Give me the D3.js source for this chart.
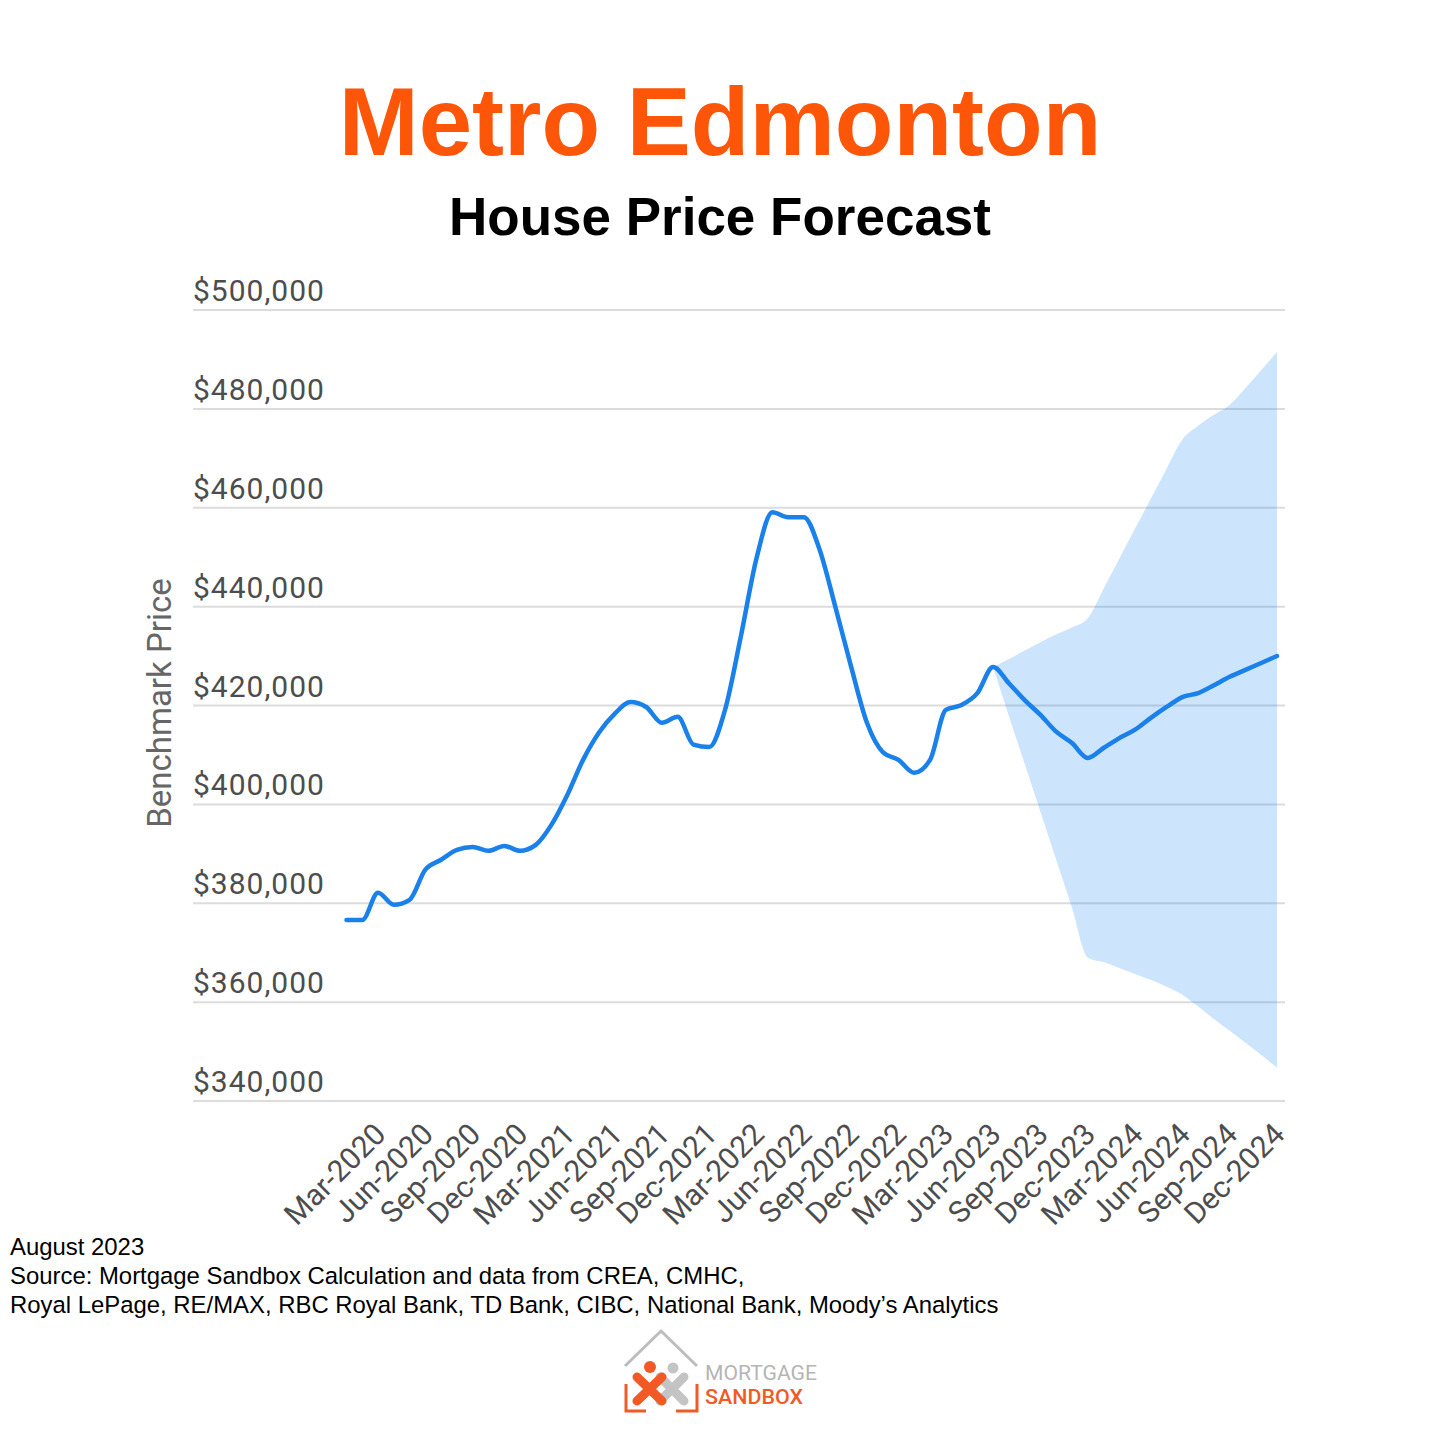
<!DOCTYPE html>
<html><head><meta charset="utf-8">
<script src="https://cdn.jsdelivr.net/npm/d3@7"></script>
<style>
html,body{margin:0;padding:0;background:#fff;}
svg{display:block;}
</style></head>
<body>
<svg id="c" width="1440" height="1440"></svg>
<script>
// ---- data ----
const monthCategories = d3.timeMonth.range(new Date(2020,0,1), new Date(2025,0,1)).map(d3.timeFormat("%b-%Y"));
const tickLabels = ["Mar-2020","Jun-2020","Sep-2020","Dec-2020","Mar-2021","Jun-2021","Sep-2021","Dec-2021","Mar-2022","Jun-2022","Sep-2022","Dec-2022","Mar-2023","Jun-2023","Sep-2023","Dec-2023","Mar-2024","Jun-2024","Sep-2024","Dec-2024"];
const yTicks = [340000,360000,380000,400000,420000,440000,460000,480000,500000];
// history Jan-2020 .. Jun-2023
const historyValues = [376500,376500,382000,379600,380600,386700,388700,390700,391300,390500,391500,390500,391700,395800,401800,408900,414400,418200,420600,419600,416400,417600,412000,411500,419000,433800,449700,459000,458000,458000,451400,439800,427700,416400,410500,408900,406300,408900,419000,420000,422400,427700];
// forecast Jun-2023 .. Dec-2024
const forecastValues = [427700,424400,421000,418000,414600,412300,409300,411300,413300,415000,417400,419600,421600,422400,424000,425700,427100,428500,429900];
const forecastUpper = [427700,429300,431000,432700,434300,435700,437500,443500,449600,455700,461700,467800,473700,476500,478700,480700,484100,487700,491400];
const forecastLower = [427700,417800,408100,398400,388700,379000,368900,368000,366800,365600,364400,363000,361400,359000,356500,354100,351700,349200,346600];

const svg = d3.select("#c");

// titles
svg.append("text").attr("x",720).attr("y",155).attr("text-anchor","middle")
  .attr("font-family","Liberation Sans, Arial, sans-serif").attr("font-weight","bold")
  .attr("font-size",96).attr("fill","#fd5608").text("Metro Edmonton");
svg.append("text").attr("x",720).attr("y",235).attr("text-anchor","middle")
  .attr("font-family","Liberation Sans, Arial, sans-serif").attr("font-weight","bold")
  .attr("font-size",53).attr("fill","#000").text("House Price Forecast");

// scales
const x = d3.scalePoint().domain(monthCategories).range([346.5, 1277]);
const y = d3.scaleLinear().domain([340000,500000]).range([1100.5, 309.5]);

const fcMonths = monthCategories.slice(41);
const band = fcMonths.map((m,i)=>({m, hi:forecastUpper[i], lo:forecastLower[i]}));

// gridlines + y labels
const yAxis = d3.axisLeft(y).tickValues(yTicks).tickSize(-(1285-193)).tickFormat(d => "$" + d3.format(",")(d));
const gy = svg.append("g").attr("transform","translate(193,0)").call(yAxis);
gy.select(".domain").remove();
gy.selectAll(".tick line").attr("stroke","#dcdcdc").attr("stroke-width",2);
gy.selectAll(".tick text").attr("x",0).attr("dy",-9).attr("text-anchor","start")
  .attr("font-family","Roboto, sans-serif").attr("font-size",30).attr("letter-spacing",1).attr("fill","#4d4d4d");

// forecast band (semi-transparent so the gridlines show through)
svg.append("path").datum(band)
  .attr("d", d3.area().x(d=>x(d.m)).y0(d=>y(d.lo)).y1(d=>y(d.hi)).curve(d3.curveMonotoneX))
  .attr("fill","rgb(0,120,240)").attr("fill-opacity",0.2);

// axis title
svg.append("text").attr("transform","translate(171,703) rotate(-90)").attr("text-anchor","middle")
  .attr("font-family","Roboto, sans-serif").attr("font-size",33).attr("fill","#666").text("Benchmark Price");

// line
const lineData = historyValues.map((v,i)=>({m:monthCategories[i], v}))
  .concat(forecastValues.slice(1).map((v,i)=>({m:fcMonths[i+1], v})));
svg.append("path").datum(lineData)
  .attr("d", d3.line().x(d=>x(d.m)).y(d=>y(d.v)).curve(d3.curveMonotoneX))
  .attr("fill","none").attr("stroke","#1a80ea").attr("stroke-width",4.5)
  .attr("stroke-linejoin","round").attr("stroke-linecap","round");

// x labels
const gx = svg.append("g").attr("transform","translate(0,1100)")
  .call(d3.axisBottom(x).tickValues(tickLabels).tickSize(0));
gx.select(".domain").remove();
gx.selectAll(".tick text")
  .attr("font-family","Roboto, sans-serif").attr("font-size",30).attr("fill","#4d4d4d")
  .attr("text-anchor","end").attr("dy",0).attr("y",0)
  .attr("transform","translate(9,36) rotate(-45)");

// footer text
const foot = ["August 2023","Source: Mortgage Sandbox Calculation and data from CREA, CMHC,","Royal LePage, RE/MAX, RBC Royal Bank, TD Bank, CIBC, National Bank, Moody’s Analytics"];
svg.append("g").selectAll("text").data(foot).join("text")
  .attr("x",10).attr("y",(d,i)=>1255+i*29)
  .attr("font-family","Liberation Sans, Arial, sans-serif").attr("font-size",23.9).attr("fill","#000")
  .text(d=>d);

// logo
const logo = svg.append("g");
logo.append("path").attr("d","M625,1366 L661,1331 L697,1366").attr("fill","none").attr("stroke","#bdbdbd").attr("stroke-width",3);
logo.append("path").attr("d","M626,1384 L626,1411 L646,1411 M676,1411 L697,1411 L697,1384").attr("fill","none").attr("stroke","#f15a24").attr("stroke-width",3);
logo.append("circle").attr("cx",673).attr("cy",1368).attr("r",5.5).attr("fill","#c4c4c4");
logo.append("path").attr("d","M660,1377 L684,1401 M684,1377 L660,1401").attr("stroke","#c4c4c4").attr("stroke-width",9).attr("stroke-linecap","round");
logo.append("circle").attr("cx",650).attr("cy",1367).attr("r",6).attr("fill","#f15a24");
logo.append("path").attr("d","M637,1377 L662,1401 M662,1377 L637,1401").attr("stroke","#f15a24").attr("stroke-width",9).attr("stroke-linecap","round");
logo.append("text").attr("x",705).attr("y",1380).attr("font-family","Roboto, sans-serif").attr("font-size",20)
  .attr("fill","#b5b5b5").attr("textLength",112).attr("lengthAdjust","spacingAndGlyphs").text("MORTGAGE");
logo.append("text").attr("x",705).attr("y",1404).attr("font-family","Roboto, sans-serif").attr("font-size",20).attr("font-weight","500")
  .attr("fill","#f15a24").attr("textLength",98).attr("lengthAdjust","spacingAndGlyphs").text("SANDBOX");
</script>
</body></html>
